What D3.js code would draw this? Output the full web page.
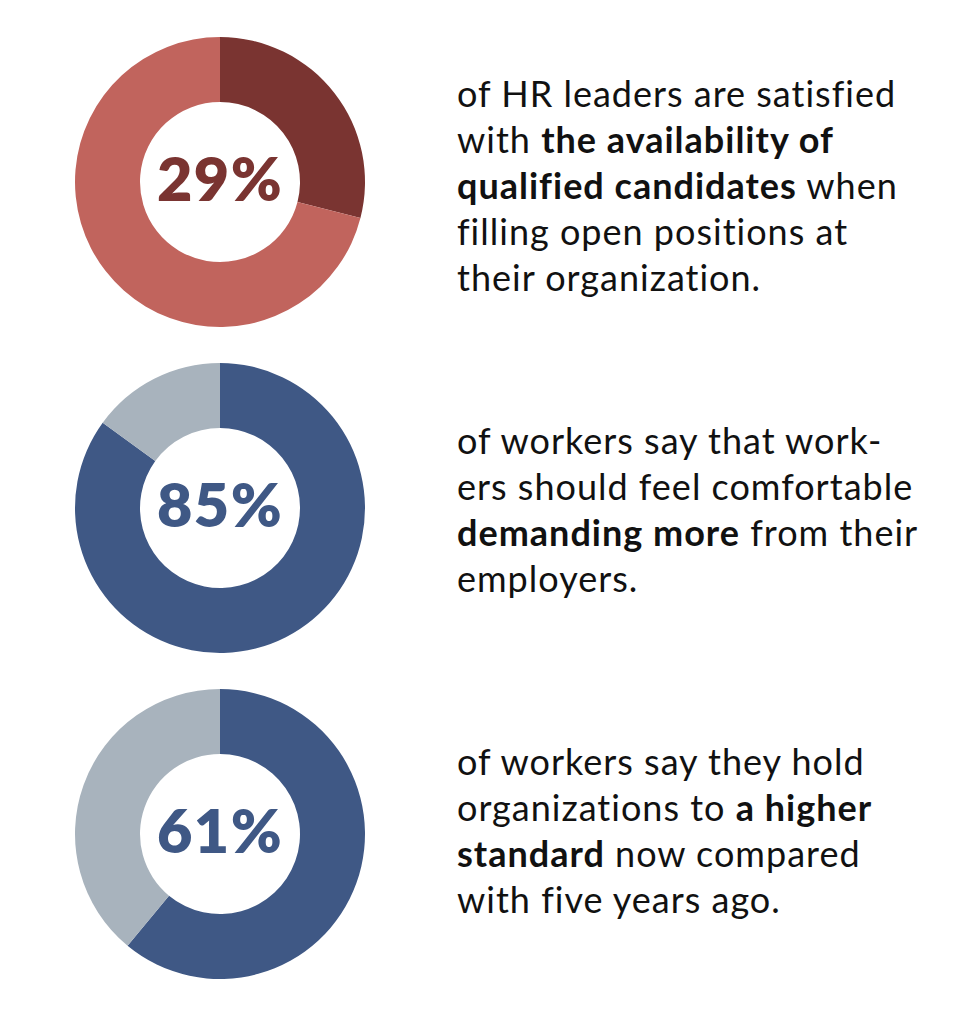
<!DOCTYPE html>
<html><head><meta charset="utf-8">
<script src="https://cdn.jsdelivr.net/npm/d3@7"></script>
<style>
html,body{margin:0;padding:0;background:#fff;}
svg{display:block;}
</style></head>
<body>
<svg id="chart" width="962" height="1028"></svg>
<script>
const values = [29, 85, 61];
const mainColors = ["#7A3431", "#3F5885", "#3F5885"];
const restColors = ["#C1645D", "#A8B3BD", "#A8B3BD"];
const labelColors = ["#7A3431", "#3F5885", "#3F5885"];
// each line is a list of [text, bold]
const texts = [
  [
    [["of HR leaders are satisfied", false]],
    [["with ", false], ["the availability of", true]],
    [["qualified candidates", true], [" when", false]],
    [["filling open positions at", false]],
    [["their organization.", false]]
  ],
  [
    [["of workers say that work-", false]],
    [["ers should feel comfortable", false]],
    [["demanding more", true], [" from their", false]],
    [["employers.", false]]
  ],
  [
    [["of workers say they hold", false]],
    [["organizations to ", false], ["a higher", true]],
    [["standard", true], [" now compared", false]],
    [["with five years ago.", false]]
  ]
];

const svg = d3.select("#chart");
const cx = 220, outerR = 145, innerR = 80;
const centersY = [182, 508, 834];
const firstBaselines = [107, 454, 775];
const lineH = 46;
const textX = 457;
const fontFam = "Lato, 'Open Sans', sans-serif";

const pie = d3.pie().sort(null).value(d => d.v);
const arc = d3.arc().innerRadius(innerR).outerRadius(outerR);

values.forEach((v, i) => {
  const g = svg.append("g").attr("transform", `translate(${cx},${centersY[i]})`);
  const data = [{v: v, c: mainColors[i]}, {v: 100 - v, c: restColors[i]}];
  g.selectAll("path").data(pie(data)).join("path")
    .attr("d", arc).attr("fill", d => d.data.c);
  g.append("text")
    .attr("text-anchor", "middle")
    .attr("y", 19)
    .attr("font-family", fontFam)
    .attr("font-weight", 800)
    .attr("font-size", 61)
    .attr("letter-spacing", 1.5)
    .attr("fill", labelColors[i])
    .text(v + "%");

  const t = svg.append("text")
    .attr("font-family", fontFam)
    .attr("font-size", 36)
    .attr("letter-spacing", 1)
    .attr("fill", "#111");
  texts[i].forEach((line, li) => {
    line.forEach((seg, si) => {
      const ts = t.append("tspan").text(seg[0])
        .attr("font-weight", seg[1] ? 700 : 400)
        .style("white-space", "pre");
      if (si === 0) ts.attr("x", textX).attr("y", firstBaselines[i] + li * lineH);
    });
  });
});
</script>
</body></html>
